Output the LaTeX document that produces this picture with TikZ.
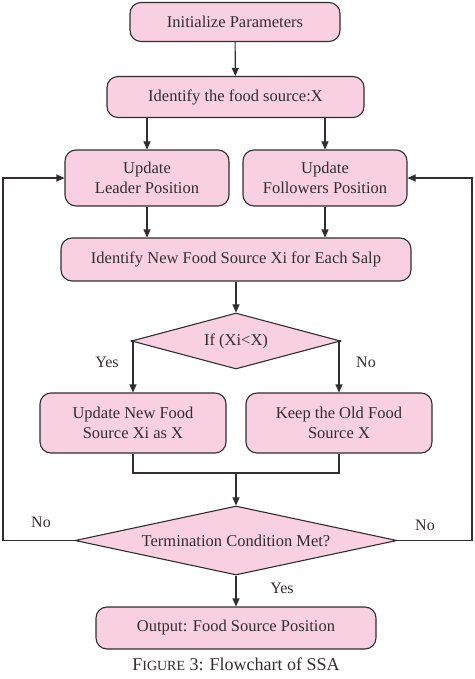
\documentclass[tikz,border=0pt]{standalone}
\usepackage{fontspec}
\setmainfont{Liberation Serif}
\usetikzlibrary{shapes.geometric,arrows.meta}
\definecolor{boxfill}{RGB}{248,208,225}
\definecolor{edge}{RGB}{50,45,48}
\tikzset{
  proc/.style={draw=edge, fill=boxfill, line width=1.1pt, rounded corners=11pt, align=center, inner sep=0pt, text=edge, font=\fontsize{16.5}{20}\selectfont},
  dec/.style={draw=edge, fill=boxfill, line width=1.1pt, diamond, inner sep=0pt, align=center, text=edge, font=\fontsize{16.5}{20}\selectfont},
  arr/.style={draw=edge, line width=1.1pt, -{Triangle[length=8pt,width=7pt]}},
  ln/.style={draw=edge, line width=1.1pt},
  lbl/.style={font=\fontsize{16}{18}\selectfont, text=edge}
}
\begin{document}
\begin{tikzpicture}[x=1pt,y=-1pt]
\useasboundingbox (0,0) rectangle (474,679);
\node[proc, minimum width=210pt, minimum height=39pt] (init) at (235,22) {Initialize Parameters};
\node[proc, minimum width=257pt, minimum height=41pt] (ident) at (235.5,97) {Identify the food source:X};
\node[proc, minimum width=164pt, minimum height=56pt] (leader) at (147,178) {Update\\Leader Position};
\node[proc, minimum width=164pt, minimum height=56pt] (follow) at (325,178) {Update\\Followers Position};
\node[proc, minimum width=350pt, minimum height=43pt] (newfood) at (236,259.5) {Identify New Food Source Xi for Each Salp};
\node[dec, aspect=3.7, minimum width=209pt, minimum height=56pt] (if) at (236,341) {If (Xi<X)};
\node[proc, minimum width=186pt, minimum height=60pt] (upd) at (133,423) {Update New Food\\Source Xi as X};
\node[proc, minimum width=186pt, minimum height=60pt] (keep) at (339,423) {Keep the Old Food\\Source X};
\node[dec, aspect=4.67, minimum width=322pt, minimum height=69pt] (term) at (236,540.5) {Termination Condition Met?};
\node[proc, minimum width=280pt, minimum height=42pt] (out) at (236,628) {Output: Food Source Position};
\node[font=\fontsize{18}{20}\selectfont, text=edge] (cap) at (236,664) {F{\fontsize{14}{16}\selectfont IGURE} 3: Flowchart of SSA};

\coordinate (merge) at (236,473);
\coordinate (lt) at (3,540.5);
\coordinate (lb) at (3,178);
\coordinate (rt) at (472,540.5);
\coordinate (rb) at (472,178);

\draw[arr] (init) -- (ident);
\draw[arr] (ident.south -| leader) -- (leader);
\draw[arr] (ident.south -| follow) -- (follow);
\draw[arr] (leader) -- (newfood.north -| leader);
\draw[arr] (follow) -- (newfood.north -| follow);
\draw[arr] (newfood) -- (if);
\draw[arr] (if.west) -- (if.west -| upd) -- (upd);
\draw[arr] (if.east) -- (if.east -| keep) -- (keep);
\draw[ln] (upd) |- (merge) -| (keep);
\draw[arr] (merge) -- (term);
\draw[arr] (term) -- (out);
\draw[arr] (term.west) -- (lt) -- (lb) -- (leader);
\draw[arr] (term.east) -- (rt) -- (rb) -- (follow);

\node[lbl] (yes1) at (107,362) {Yes};
\node[lbl] (no1) at (366,362) {No};
\node[lbl] (no2) at (41,522) {No};
\node[lbl] (no3) at (425,525) {No};
\node[lbl] (yes2) at (282,588) {Yes};
\end{tikzpicture}
\end{document}
